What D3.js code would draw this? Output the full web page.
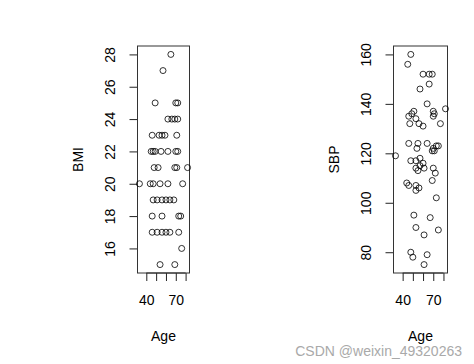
<!DOCTYPE html>
<html>
<head>
<meta charset="utf-8">
<script src="https://cdn.jsdelivr.net/npm/d3@7"></script>
<style>
  body { margin: 0; background: #fff; }
  svg text { font-family: "Liberation Sans", Arial, sans-serif; }
</style>
</head>
<body>
<div id="chart"></div>
<script>
// values (two panels, Age on x)
var bmiAge = [65, 57, 49, 70, 72, 62, 66, 69, 72, 46, 53, 56, 59, 71,
  45, 47, 49, 55, 62, 70, 72, 48, 52, 69, 71, 82, 33, 44, 47, 54, 62, 77,
  47, 51, 56, 60, 64, 68, 46, 56, 73, 75, 46, 51, 56, 60, 64, 73, 76, 54, 69];
var bmi = [28, 27, 25, 25, 25, 24, 24, 24, 24, 23, 23, 23, 23, 23,
  22, 22, 22, 22, 22, 22, 22, 21, 21, 21, 21, 21, 20, 20, 20, 20, 20, 20,
  19, 19, 19, 19, 19, 19, 18, 18, 18, 18, 17, 17, 17, 17, 17, 17, 16, 15, 15];

var sbpAge = [48, 45, 60, 66, 69, 66, 57, 64, 70, 71, 70, 51, 49, 46, 53, 47,
  56, 60, 77, 82, 46, 55, 64, 70, 73, 75, 69, 71, 33, 54, 48, 53, 57, 60,
  53, 57, 55, 61, 70, 72, 69, 44, 46, 53, 56, 53, 73, 51, 67, 53, 75, 61,
  48, 50, 64, 61];
var sbp = [160, 156, 152, 152, 152, 148, 146, 140, 137, 136, 135, 137, 136, 135, 134, 132,
  132, 131, 132, 138, 124, 124, 124, 122, 123, 123, 121, 121, 119, 122, 117, 117, 118, 116,
  114, 115, 113, 114, 114, 112, 109, 108, 107, 107, 106, 105, 102, 95, 94, 90, 89, 87,
  80, 78, 79, 75];

var xTicks = [40, 50, 60, 70, 80];
var xTickLabels = ["40", "", "", "70", ""];
var bmiTicks = [16, 18, 20, 22, 24, 26, 28];
var sbpTicks = [80, 100, 120, 140, 160];

var svgWidth = 474;
var svgHeight = 364;

var svg = d3.select("#chart")
  .append("svg")
  .attr("width", svgWidth)
  .attr("height", svgHeight);

// R style: pad the data range by 4% on each side
function padded(values) {
  var ext = d3.extent(values);
  var pad = (ext[1] - ext[0]) * 0.04;
  return [ext[0] - pad, ext[1] + pad];
}

var plotTop = 46, plotBottom = 273;

function panel(left, right, xs, ys, yTicks, yLabel) {
  var xScale = d3.scaleLinear().domain(padded(xs)).range([left, right]);
  var yScale = d3.scaleLinear().domain(padded(ys)).range([plotBottom, plotTop]);

  var g = svg.append("g");

  var bottomAxis = d3.axisBottom(xScale)
    .tickValues(xTicks)
    .tickSize(8)
    .tickPadding(14)
    .tickFormat(function(d, i) { return xTickLabels[i]; });

  var xAxis = g.append("g")
    .attr("transform", `translate(0, ${plotBottom})`)
    .call(bottomAxis);
  xAxis.select(".domain").attr("d", `M${xScale(40)},0H${xScale(80)}`);

  var leftAxis = d3.axisLeft(yScale)
    .tickValues(yTicks)
    .tickSize(8)
    .tickFormat(d3.format("d"));

  var yAxis = g.append("g")
    .attr("transform", `translate(${left}, 0)`)
    .call(leftAxis);
  yAxis.select(".domain").attr("d", `M0,${yScale(yTicks[0])}V${yScale(yTicks[yTicks.length - 1])}`);
  yAxis.selectAll(".tick text")
    .attr("x", null)
    .attr("text-anchor", "middle")
    .attr("transform", "translate(-27, 0) rotate(-90)")
    .attr("y", 0)
    .attr("dy", "0.35em");

  g.selectAll(".domain, .tick line").attr("stroke", "#222");
  g.selectAll(".tick text").attr("fill", "#000").style("font-size", "14px");

  g.append("rect")
    .attr("x", left)
    .attr("y", plotTop)
    .attr("width", right - left)
    .attr("height", plotBottom - plotTop)
    .attr("fill", "none")
    .attr("stroke", "#333")
    .attr("stroke-width", 1);

  g.selectAll("circle")
    .data(xs)
    .enter()
    .append("circle")
    .attr("cx", function(d) { return xScale(d); })
    .attr("cy", function(d, i) { return yScale(ys[i]); })
    .attr("r", 3)
    .attr("fill", "none")
    .attr("stroke", "#000")
    .attr("stroke-width", 0.8);

  g.append("text")
    .attr("x", (left + right) / 2)
    .attr("y", 341)
    .attr("text-anchor", "middle")
    .style("font-size", "14px")
    .text("Age");

  g.append("text")
    .attr("transform", `translate(${left - 59.5}, ${(plotTop + plotBottom) / 2}) rotate(-90)`)
    .attr("text-anchor", "middle")
    .attr("dy", "0.35em")
    .style("font-size", "14px")
    .text(yLabel);
}

panel(137.5, 189.5, bmiAge, bmi, bmiTicks, "BMI");
panel(393.5, 447.5, sbpAge, sbp, sbpTicks, "SBP");

// watermark
svg.append("text")
  .attr("x", 462)
  .attr("y", 356)
  .attr("text-anchor", "end")
  .attr("fill", "#a9a9a9")
  .style("font-size", "14px")
  .text("CSDN @weixin_49320263");
</script>
</body>
</html>
